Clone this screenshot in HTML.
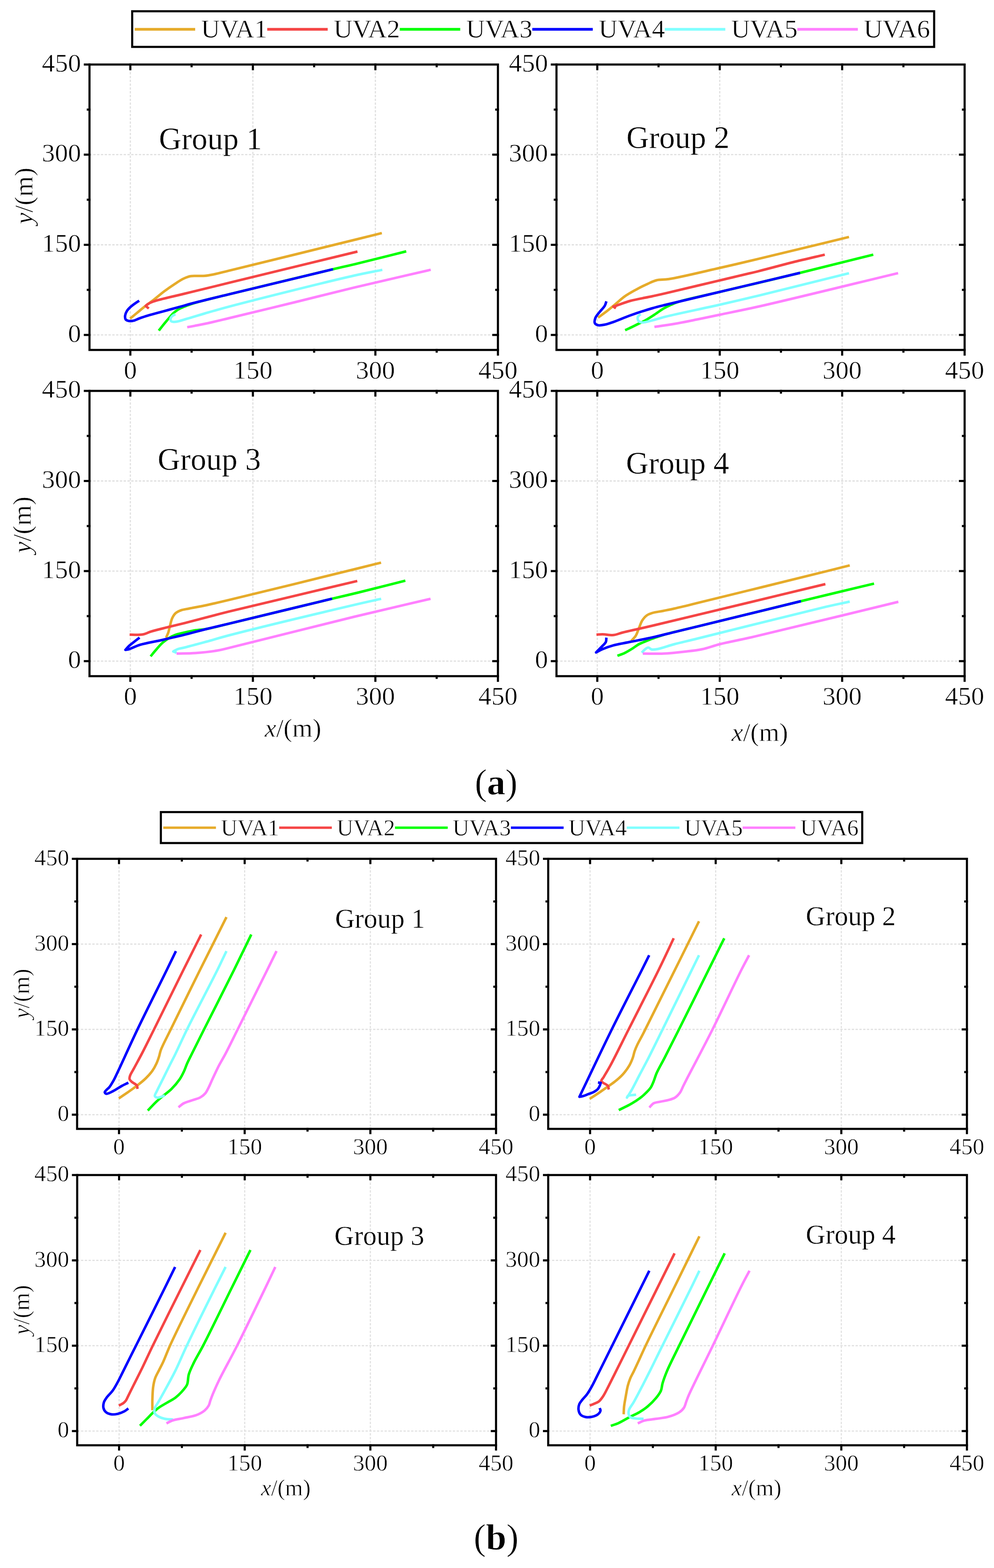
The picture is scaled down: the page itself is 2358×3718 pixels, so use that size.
<!DOCTYPE html>
<html><head><meta charset="utf-8"><title>UVA trajectories</title>
<style>html,body{margin:0;padding:0;background:#fff;overflow:hidden;} svg{display:block;}</style></head>
<body><svg width="2358" height="3718" viewBox="0 0 2358 3718">
<rect width="2358" height="3718" fill="#fff"/>
<g stroke="#e0e0e0" stroke-width="2.8" stroke-dasharray="5.6 3.4"><line x1="309.2" y1="153.0" x2="309.2" y2="829.8"/><line x1="212.3" y1="794.2" x2="1181.2" y2="794.2"/><line x1="599.9" y1="153.0" x2="599.9" y2="829.8"/><line x1="212.3" y1="580.5" x2="1181.2" y2="580.5"/><line x1="890.5" y1="153.0" x2="890.5" y2="829.8"/><line x1="212.3" y1="366.7" x2="1181.2" y2="366.7"/></g>
<path d="M308.6,755.5C313.8,751.2 318.9,747.0 324.3,742.5C330.2,737.7 336.2,732.4 342.6,727.4C349.3,722.1 356.3,717.4 363.6,711.7C371.9,705.3 381.0,697.3 389.8,690.7C398.4,684.2 407.8,677.7 416.0,672.4C422.9,667.9 429.1,663.6 435.6,660.6C441.3,657.9 446.8,655.7 452.6,654.7C458.3,653.7 464.3,654.4 470.0,654.3C475.4,654.2 480.5,654.5 486.0,654.0C492.1,653.5 497.5,652.5 505.0,651.0C515.9,648.8 525.4,646.2 545.0,641.4C599.1,628.3 789.1,581.5 850.0,566.5C876.1,560.1 887.2,557.3 905.8,552.7" fill="none" stroke="#E6AB2A" stroke-width="6" stroke-linejoin="round" stroke-linecap="butt"/>
<path d="M353.0,731.5L345.5,725.5C347.0,724.2 348.0,722.8 350.0,721.5C353.2,719.4 357.1,717.3 363.6,715.0C378.2,709.7 410.3,703.2 437.2,696.5C469.7,688.5 500.0,681.2 545.0,670.2C620.5,651.8 747.0,621.1 848.0,596.5" fill="none" stroke="#F54545" stroke-width="6" stroke-linejoin="round" stroke-linecap="butt"/>
<path d="M376.7,784.0C380.2,779.5 383.5,775.2 387.2,770.6C391.3,765.5 396.2,759.7 400.3,754.9C403.9,750.7 406.9,746.6 410.7,743.1C414.4,739.7 418.3,736.6 422.5,734.0C426.6,731.5 430.7,729.8 435.6,727.8C441.5,725.3 448.3,722.8 455.3,720.5C463.0,718.0 469.8,716.1 480.0,713.4C496.5,709.0 516.4,704.4 545.0,697.4C600.5,683.9 735.9,651.2 790.0,638.4C816.7,632.1 826.9,630.0 850.0,624.4C881.9,616.7 925.8,605.5 963.7,596.0" fill="none" stroke="#00FF00" stroke-width="6" stroke-linejoin="round" stroke-linecap="butt"/>
<path d="M330.2,713.0C326.9,715.2 323.8,717.1 320.4,719.5C316.6,722.2 312.0,725.5 308.6,728.7C305.5,731.6 302.7,734.5 300.7,737.9C298.8,741.1 297.2,745.0 296.8,748.4C296.5,751.5 296.6,755.4 298.1,757.5C299.4,759.4 302.1,760.2 304.6,760.8C307.6,761.5 311.3,761.5 315.1,760.8C319.9,759.9 325.2,756.9 330.8,754.9C337.0,752.7 343.4,750.5 350.5,748.4C358.6,746.0 368.0,743.6 376.7,741.2C385.4,738.8 394.2,736.4 402.9,734.0C411.6,731.6 420.4,729.2 429.1,726.8C437.8,724.4 443.9,722.5 455.3,719.5C476.3,714.0 507.7,706.5 545.0,697.4C606.6,682.4 708.3,658.1 790.0,638.4" fill="none" stroke="#0000FF" stroke-width="6" stroke-linejoin="round" stroke-linecap="butt"/>
<path d="M416.0,745.0C413.3,746.7 410.0,748.0 408.0,750.0C406.3,751.7 404.8,754.0 404.5,756.0C404.3,757.8 404.8,760.3 406.0,761.5C407.2,762.8 409.8,763.0 412.0,763.2C414.5,763.4 417.2,763.0 420.0,762.5C423.2,762.0 425.9,761.1 430.0,760.0C436.5,758.2 446.5,754.9 455.3,752.3C464.8,749.4 473.4,746.9 485.0,743.5C501.5,738.7 517.4,733.9 545.0,726.6C606.0,710.4 776.4,667.8 840.0,653.5C870.2,646.7 884.7,644.4 907.0,639.9" fill="none" stroke="#80FFFF" stroke-width="6" stroke-linejoin="round" stroke-linecap="butt"/>
<path d="M444.1,775.9C450.0,774.8 455.2,773.9 461.8,772.6C470.0,771.0 478.8,769.4 489.6,767.0C504.9,763.7 521.9,759.5 545.0,754.0C583.7,744.8 649.7,728.8 700.0,716.5C747.9,704.8 790.2,693.7 840.0,681.8C896.6,668.2 961.2,653.7 1021.8,639.7" fill="none" stroke="#FF80FF" stroke-width="6" stroke-linejoin="round" stroke-linecap="butt"/>
<g stroke="#000" stroke-width="5" stroke-linecap="square"><rect x="212.3" y="153.0" width="968.9" height="676.8" fill="none"/><line x1="309.2" y1="829.8" x2="309.2" y2="840.8"/><line x1="309.2" y1="153.0" x2="309.2" y2="164.0"/><line x1="212.3" y1="794.2" x2="201.3" y2="794.2"/><line x1="1181.2" y1="794.2" x2="1170.2" y2="794.2"/><line x1="599.9" y1="829.8" x2="599.9" y2="840.8"/><line x1="599.9" y1="153.0" x2="599.9" y2="164.0"/><line x1="212.3" y1="580.5" x2="201.3" y2="580.5"/><line x1="1181.2" y1="580.5" x2="1170.2" y2="580.5"/><line x1="890.5" y1="829.8" x2="890.5" y2="840.8"/><line x1="890.5" y1="153.0" x2="890.5" y2="164.0"/><line x1="212.3" y1="366.7" x2="201.3" y2="366.7"/><line x1="1181.2" y1="366.7" x2="1170.2" y2="366.7"/><line x1="1181.2" y1="829.8" x2="1181.2" y2="840.8"/><line x1="212.3" y1="153.0" x2="201.3" y2="153.0"/><line x1="454.5" y1="829.8" x2="454.5" y2="833.8"/><line x1="454.5" y1="153.0" x2="454.5" y2="157.0"/><line x1="212.3" y1="687.3" x2="208.3" y2="687.3"/><line x1="1181.2" y1="687.3" x2="1177.2" y2="687.3"/><line x1="745.2" y1="829.8" x2="745.2" y2="833.8"/><line x1="745.2" y1="153.0" x2="745.2" y2="157.0"/><line x1="212.3" y1="473.6" x2="208.3" y2="473.6"/><line x1="1181.2" y1="473.6" x2="1177.2" y2="473.6"/><line x1="1035.9" y1="829.8" x2="1035.9" y2="833.8"/><line x1="1035.9" y1="153.0" x2="1035.9" y2="157.0"/><line x1="212.3" y1="259.9" x2="208.3" y2="259.9"/><line x1="1181.2" y1="259.9" x2="1177.2" y2="259.9"/></g>
<g font-family="'Liberation Serif','Times New Roman',serif" stroke="#fff" stroke-width="0.8" font-size="62" fill="#000"><text x="309.2" y="897.8" text-anchor="middle">0</text><text x="192.3" y="810.6" text-anchor="end">0</text><text x="599.9" y="897.8" text-anchor="middle">150</text><text x="192.3" y="596.9" text-anchor="end">150</text><text x="890.5" y="897.8" text-anchor="middle">300</text><text x="192.3" y="383.2" text-anchor="end">300</text><text x="1181.2" y="897.8" text-anchor="middle">450</text><text x="192.3" y="169.5" text-anchor="end">450</text></g>
<g stroke="#e0e0e0" stroke-width="2.8" stroke-dasharray="5.6 3.4"><line x1="1416.9" y1="153.0" x2="1416.9" y2="829.8"/><line x1="1320.1" y1="794.2" x2="2288.3" y2="794.2"/><line x1="1707.4" y1="153.0" x2="1707.4" y2="829.8"/><line x1="1320.1" y1="580.5" x2="2288.3" y2="580.5"/><line x1="1997.8" y1="153.0" x2="1997.8" y2="829.8"/><line x1="1320.1" y1="366.7" x2="2288.3" y2="366.7"/></g>
<path d="M1418.8,753.0C1424.9,748.6 1430.9,744.5 1437.2,739.7C1444.0,734.5 1450.9,728.6 1458.1,722.7C1465.7,716.4 1473.4,708.9 1481.7,703.0C1490.0,697.1 1498.9,692.3 1507.9,687.3C1517.2,682.2 1527.8,676.9 1536.7,672.9C1544.2,669.5 1549.9,666.4 1557.6,664.5C1566.3,662.4 1573.6,663.8 1586.5,661.8C1613.1,657.7 1669.9,643.8 1707.5,635.3C1740.4,627.9 1762.8,622.5 1800.0,613.7C1856.6,600.2 1942.7,579.2 2014.0,561.9" fill="none" stroke="#E6AB2A" stroke-width="6" stroke-linejoin="round" stroke-linecap="butt"/>
<path d="M1461.0,731.0L1455.0,727.0C1456.7,726.5 1457.6,726.3 1460.0,725.5C1466.4,723.4 1481.9,717.1 1494.8,713.5C1510.4,709.2 1531.8,705.9 1547.2,702.5C1559.4,699.8 1565.5,698.5 1580.0,695.1C1608.6,688.5 1668.4,674.1 1707.5,664.8C1740.8,656.9 1770.3,650.2 1800.0,642.8C1827.7,635.9 1853.6,628.6 1880.0,622.0C1905.8,615.6 1931.1,609.9 1956.6,603.9" fill="none" stroke="#F54545" stroke-width="6" stroke-linejoin="round" stroke-linecap="butt"/>
<path d="M1483.0,783.0C1488.7,780.3 1494.0,777.9 1500.0,775.0C1506.6,771.8 1515.2,767.5 1521.0,764.6C1525.1,762.5 1527.5,761.6 1531.5,759.3C1537.3,756.0 1545.5,750.7 1552.4,746.2C1559.4,741.6 1566.7,736.0 1573.4,732.0C1579.2,728.6 1584.1,726.2 1590.0,723.5C1596.3,720.6 1600.7,718.5 1610.0,715.5C1630.1,709.1 1669.6,701.2 1707.5,692.2C1760.4,679.6 1835.9,662.1 1897.9,647.0C1957.2,632.6 2013.7,618.2 2071.6,603.8" fill="none" stroke="#00FF00" stroke-width="6" stroke-linejoin="round" stroke-linecap="butt"/>
<path d="M1438.5,714.5C1437.2,718.1 1436.7,721.6 1434.5,725.3C1431.6,730.3 1425.3,735.9 1421.4,741.0C1418.0,745.5 1414.0,749.6 1412.3,754.1C1410.9,758.0 1409.7,763.0 1411.0,765.9C1412.2,768.5 1415.6,770.3 1418.8,771.1C1423.0,772.2 1428.9,770.9 1434.5,769.8C1441.1,768.5 1447.5,766.1 1455.5,763.3C1466.6,759.4 1480.7,753.0 1494.8,748.0C1510.9,742.2 1531.7,735.5 1547.2,731.0C1559.3,727.5 1565.5,726.1 1580.0,722.5C1608.6,715.4 1660.8,703.3 1707.5,692.2C1764.6,678.6 1834.4,662.1 1897.9,647.0" fill="none" stroke="#0000FF" stroke-width="6" stroke-linejoin="round" stroke-linecap="butt"/>
<path d="M1519.7,744.9C1517.5,747.1 1514.0,748.9 1513.1,751.5C1512.2,754.1 1512.7,758.4 1514.4,760.6C1516.1,762.9 1519.7,764.2 1523.6,764.6C1529.6,765.2 1538.7,761.8 1547.2,759.8C1557.3,757.4 1565.4,754.2 1580.0,750.6C1608.5,743.5 1668.4,731.4 1707.5,722.5C1740.8,714.9 1762.8,709.8 1800.0,700.8C1856.6,687.1 1942.7,665.5 2014.0,647.8" fill="none" stroke="#80FFFF" stroke-width="6" stroke-linejoin="round" stroke-linecap="butt"/>
<path d="M1552.4,775.0C1568.1,772.7 1583.5,770.8 1599.6,768.0C1616.6,765.1 1634.3,761.4 1652.0,757.8C1670.2,754.1 1686.7,750.6 1707.5,746.2C1734.4,740.6 1759.8,735.8 1800.0,726.8C1876.3,709.7 2020.3,674.0 2130.5,647.6" fill="none" stroke="#FF80FF" stroke-width="6" stroke-linejoin="round" stroke-linecap="butt"/>
<g stroke="#000" stroke-width="5" stroke-linecap="square"><rect x="1320.1" y="153.0" width="968.2" height="676.8" fill="none"/><line x1="1416.9" y1="829.8" x2="1416.9" y2="840.8"/><line x1="1416.9" y1="153.0" x2="1416.9" y2="164.0"/><line x1="1320.1" y1="794.2" x2="1309.1" y2="794.2"/><line x1="2288.3" y1="794.2" x2="2277.3" y2="794.2"/><line x1="1707.4" y1="829.8" x2="1707.4" y2="840.8"/><line x1="1707.4" y1="153.0" x2="1707.4" y2="164.0"/><line x1="1320.1" y1="580.5" x2="1309.1" y2="580.5"/><line x1="2288.3" y1="580.5" x2="2277.3" y2="580.5"/><line x1="1997.8" y1="829.8" x2="1997.8" y2="840.8"/><line x1="1997.8" y1="153.0" x2="1997.8" y2="164.0"/><line x1="1320.1" y1="366.7" x2="1309.1" y2="366.7"/><line x1="2288.3" y1="366.7" x2="2277.3" y2="366.7"/><line x1="2288.3" y1="829.8" x2="2288.3" y2="840.8"/><line x1="1320.1" y1="153.0" x2="1309.1" y2="153.0"/><line x1="1562.2" y1="829.8" x2="1562.2" y2="833.8"/><line x1="1562.2" y1="153.0" x2="1562.2" y2="157.0"/><line x1="1320.1" y1="687.3" x2="1316.1" y2="687.3"/><line x1="2288.3" y1="687.3" x2="2284.3" y2="687.3"/><line x1="1852.6" y1="829.8" x2="1852.6" y2="833.8"/><line x1="1852.6" y1="153.0" x2="1852.6" y2="157.0"/><line x1="1320.1" y1="473.6" x2="1316.1" y2="473.6"/><line x1="2288.3" y1="473.6" x2="2284.3" y2="473.6"/><line x1="2143.1" y1="829.8" x2="2143.1" y2="833.8"/><line x1="2143.1" y1="153.0" x2="2143.1" y2="157.0"/><line x1="1320.1" y1="259.9" x2="1316.1" y2="259.9"/><line x1="2288.3" y1="259.9" x2="2284.3" y2="259.9"/></g>
<g font-family="'Liberation Serif','Times New Roman',serif" stroke="#fff" stroke-width="0.8" font-size="62" fill="#000"><text x="1416.9" y="897.8" text-anchor="middle">0</text><text x="1300.1" y="810.6" text-anchor="end">0</text><text x="1707.4" y="897.8" text-anchor="middle">150</text><text x="1300.1" y="596.9" text-anchor="end">150</text><text x="1997.8" y="897.8" text-anchor="middle">300</text><text x="1300.1" y="383.2" text-anchor="end">300</text><text x="2288.3" y="897.8" text-anchor="middle">450</text><text x="1300.1" y="169.5" text-anchor="end">450</text></g>
<g stroke="#e0e0e0" stroke-width="2.8" stroke-dasharray="5.6 3.4"><line x1="309.2" y1="926.9" x2="309.2" y2="1603.3"/><line x1="212.3" y1="1567.7" x2="1181.2" y2="1567.7"/><line x1="599.9" y1="926.9" x2="599.9" y2="1603.3"/><line x1="212.3" y1="1354.1" x2="1181.2" y2="1354.1"/><line x1="890.5" y1="926.9" x2="890.5" y2="1603.3"/><line x1="212.3" y1="1140.5" x2="1181.2" y2="1140.5"/></g>
<path d="M394.0,1512.0C395.7,1508.0 397.7,1504.3 399.2,1500.0C400.8,1495.2 401.6,1489.7 403.1,1484.3C404.7,1478.4 406.0,1471.3 408.4,1466.0C410.5,1461.5 412.8,1457.3 416.2,1454.2C419.7,1451.0 424.4,1448.9 429.3,1447.1C434.8,1445.1 440.2,1444.7 447.6,1443.2C458.7,1440.9 474.7,1438.2 489.6,1435.0C506.8,1431.3 519.1,1428.4 545.0,1422.2C605.8,1407.7 789.8,1362.3 850.0,1347.5C875.3,1341.3 886.0,1338.6 904.0,1334.1" fill="none" stroke="#E6AB2A" stroke-width="6" stroke-linejoin="round" stroke-linecap="butt"/>
<path d="M307.5,1504.8C314.1,1505.0 321.3,1505.5 327.2,1505.3C332.0,1505.1 335.6,1505.0 340.2,1504.0C345.9,1502.7 351.3,1499.7 358.6,1497.4C369.2,1494.1 384.8,1490.5 397.9,1487.2C411.0,1483.9 420.9,1481.7 437.2,1477.6C464.3,1470.8 499.9,1460.9 545.0,1449.7C620.3,1431.0 746.7,1401.6 847.5,1377.6" fill="none" stroke="#F54545" stroke-width="6" stroke-linejoin="round" stroke-linecap="butt"/>
<path d="M357.3,1556.4C361.2,1551.6 364.8,1546.9 369.1,1542.0C373.9,1536.5 379.3,1529.9 384.8,1524.9C389.8,1520.3 395.1,1516.4 400.5,1513.1C405.6,1510.0 410.5,1507.4 416.2,1505.3C422.6,1502.9 429.8,1501.7 437.2,1500.0C445.4,1498.1 454.6,1495.9 463.4,1494.5C472.1,1493.1 479.3,1493.3 489.6,1491.5C504.7,1488.8 520.0,1484.3 545.0,1478.3C597.3,1465.7 733.5,1432.7 787.9,1419.7C815.4,1413.1 826.3,1410.8 850.0,1405.0C881.8,1397.2 924.4,1386.2 961.6,1376.8" fill="none" stroke="#00FF00" stroke-width="6" stroke-linejoin="round" stroke-linecap="butt"/>
<path d="M331.1,1511.8C327.2,1514.9 323.3,1517.8 319.3,1521.0C315.0,1524.4 310.0,1527.9 306.2,1531.5C302.9,1534.6 300.4,1537.8 297.5,1541.0C300.4,1540.4 302.6,1540.4 306.2,1539.3C312.7,1537.4 322.0,1532.1 332.4,1528.9C346.7,1524.5 367.3,1521.4 384.8,1517.5C402.3,1513.5 419.8,1509.5 437.2,1505.2C454.7,1500.9 471.9,1495.9 489.6,1491.5C507.8,1487.0 520.0,1484.3 545.0,1478.3C597.3,1465.7 706.9,1439.2 787.9,1419.7" fill="none" stroke="#0000FF" stroke-width="6" stroke-linejoin="round" stroke-linecap="butt"/>
<path d="M418.8,1547.7L411.0,1544.6C414.5,1542.8 417.6,1540.8 421.5,1539.3C426.1,1537.6 430.4,1537.2 437.2,1535.5C449.6,1532.4 471.9,1526.3 489.6,1521.5C507.8,1516.5 519.2,1512.8 545.0,1506.0C604.4,1490.5 777.4,1449.1 840.0,1434.4C869.1,1427.6 882.8,1424.7 904.2,1419.9" fill="none" stroke="#80FFFF" stroke-width="6" stroke-linejoin="round" stroke-linecap="butt"/>
<path d="M418.8,1549.8C433.7,1549.4 448.0,1549.6 463.4,1548.5C480.2,1547.3 500.9,1545.0 515.8,1542.5C527.0,1540.6 530.2,1539.4 545.0,1535.9C592.1,1524.7 753.5,1483.4 840.0,1462.5C907.7,1446.1 960.9,1434.1 1021.4,1419.9" fill="none" stroke="#FF80FF" stroke-width="6" stroke-linejoin="round" stroke-linecap="butt"/>
<g stroke="#000" stroke-width="5" stroke-linecap="square"><rect x="212.3" y="926.9" width="968.9" height="676.4" fill="none"/><line x1="309.2" y1="1603.3" x2="309.2" y2="1614.3"/><line x1="309.2" y1="926.9" x2="309.2" y2="937.9"/><line x1="212.3" y1="1567.7" x2="201.3" y2="1567.7"/><line x1="1181.2" y1="1567.7" x2="1170.2" y2="1567.7"/><line x1="599.9" y1="1603.3" x2="599.9" y2="1614.3"/><line x1="599.9" y1="926.9" x2="599.9" y2="937.9"/><line x1="212.3" y1="1354.1" x2="201.3" y2="1354.1"/><line x1="1181.2" y1="1354.1" x2="1170.2" y2="1354.1"/><line x1="890.5" y1="1603.3" x2="890.5" y2="1614.3"/><line x1="890.5" y1="926.9" x2="890.5" y2="937.9"/><line x1="212.3" y1="1140.5" x2="201.3" y2="1140.5"/><line x1="1181.2" y1="1140.5" x2="1170.2" y2="1140.5"/><line x1="1181.2" y1="1603.3" x2="1181.2" y2="1614.3"/><line x1="212.3" y1="926.9" x2="201.3" y2="926.9"/><line x1="454.5" y1="1603.3" x2="454.5" y2="1607.3"/><line x1="454.5" y1="926.9" x2="454.5" y2="930.9"/><line x1="212.3" y1="1460.9" x2="208.3" y2="1460.9"/><line x1="1181.2" y1="1460.9" x2="1177.2" y2="1460.9"/><line x1="745.2" y1="1603.3" x2="745.2" y2="1607.3"/><line x1="745.2" y1="926.9" x2="745.2" y2="930.9"/><line x1="212.3" y1="1247.3" x2="208.3" y2="1247.3"/><line x1="1181.2" y1="1247.3" x2="1177.2" y2="1247.3"/><line x1="1035.9" y1="1603.3" x2="1035.9" y2="1607.3"/><line x1="1035.9" y1="926.9" x2="1035.9" y2="930.9"/><line x1="212.3" y1="1033.7" x2="208.3" y2="1033.7"/><line x1="1181.2" y1="1033.7" x2="1177.2" y2="1033.7"/></g>
<g font-family="'Liberation Serif','Times New Roman',serif" stroke="#fff" stroke-width="0.8" font-size="62" fill="#000"><text x="309.2" y="1671.3" text-anchor="middle">0</text><text x="192.3" y="1584.2" text-anchor="end">0</text><text x="599.9" y="1671.3" text-anchor="middle">150</text><text x="192.3" y="1370.6" text-anchor="end">150</text><text x="890.5" y="1671.3" text-anchor="middle">300</text><text x="192.3" y="1157.0" text-anchor="end">300</text><text x="1181.2" y="1671.3" text-anchor="middle">450</text><text x="192.3" y="943.4" text-anchor="end">450</text></g>
<g stroke="#e0e0e0" stroke-width="2.8" stroke-dasharray="5.6 3.4"><line x1="1416.9" y1="926.9" x2="1416.9" y2="1603.3"/><line x1="1320.1" y1="1567.7" x2="2288.3" y2="1567.7"/><line x1="1707.4" y1="926.9" x2="1707.4" y2="1603.3"/><line x1="1320.1" y1="1354.1" x2="2288.3" y2="1354.1"/><line x1="1997.8" y1="926.9" x2="1997.8" y2="1603.3"/><line x1="1320.1" y1="1140.5" x2="2288.3" y2="1140.5"/></g>
<path d="M1497.4,1519.7C1500.9,1515.8 1505.0,1512.5 1507.9,1507.9C1511.2,1502.7 1513.1,1495.7 1515.7,1489.6C1518.3,1483.5 1520.3,1476.4 1523.6,1471.2C1526.6,1466.6 1530.0,1462.4 1534.1,1459.4C1538.0,1456.6 1542.0,1455.2 1547.2,1453.5C1554.3,1451.2 1564.7,1450.2 1573.4,1448.5C1582.1,1446.7 1589.3,1445.3 1599.6,1443.0C1614.7,1439.6 1629.1,1436.0 1655.0,1429.7C1715.8,1414.9 1899.1,1369.7 1960.0,1354.6C1986.1,1348.1 1997.2,1345.3 2015.8,1340.6" fill="none" stroke="#E6AB2A" stroke-width="6" stroke-linejoin="round" stroke-linecap="butt"/>
<path d="M1414.9,1504.8C1419.7,1504.5 1423.8,1504.0 1429.3,1504.0C1436.7,1504.0 1447.3,1506.6 1455.5,1505.8C1462.9,1505.0 1468.7,1502.0 1476.4,1500.0C1485.8,1497.6 1496.8,1495.2 1507.9,1492.7C1520.3,1489.9 1530.9,1487.6 1547.2,1483.8C1574.3,1477.5 1610.0,1468.7 1655.0,1457.9C1730.5,1439.8 1857.0,1409.3 1958.0,1385.0" fill="none" stroke="#F54545" stroke-width="6" stroke-linejoin="round" stroke-linecap="butt"/>
<path d="M1464.7,1555.0C1470.4,1552.8 1476.0,1551.2 1481.7,1548.5C1487.8,1545.6 1494.2,1541.6 1500.0,1538.0C1505.5,1534.6 1510.1,1530.5 1515.7,1527.5C1521.5,1524.4 1528.5,1522.0 1534.1,1519.7C1538.8,1517.8 1542.0,1516.4 1547.2,1514.5C1554.7,1511.7 1563.2,1508.4 1575.0,1505.0C1594.7,1499.2 1621.1,1493.7 1655.0,1485.4C1714.4,1470.9 1845.9,1438.6 1900.0,1425.5C1926.8,1419.0 1936.8,1416.6 1960.0,1411.0C1991.8,1403.3 2035.6,1392.9 2073.4,1383.8" fill="none" stroke="#00FF00" stroke-width="6" stroke-linejoin="round" stroke-linecap="butt"/>
<path d="M1438.5,1511.8C1438.1,1515.3 1438.7,1518.9 1437.2,1522.3C1435.3,1526.4 1430.4,1530.1 1426.7,1534.1C1422.7,1538.4 1418.2,1542.7 1414.0,1547.0C1419.1,1544.4 1423.4,1541.8 1429.3,1539.3C1436.8,1536.1 1445.8,1532.9 1455.5,1530.2C1467.2,1527.0 1480.8,1524.9 1494.8,1522.0C1511.0,1518.7 1529.8,1515.4 1547.2,1511.5C1564.7,1507.6 1581.9,1503.1 1599.6,1498.8C1617.8,1494.4 1630.0,1491.5 1655.0,1485.4C1707.6,1472.6 1818.3,1445.5 1900.0,1425.5" fill="none" stroke="#0000FF" stroke-width="6" stroke-linejoin="round" stroke-linecap="butt"/>
<path d="M1522.3,1547.5C1525.2,1544.7 1528.1,1541.1 1531.0,1539.0C1533.3,1537.3 1535.6,1535.4 1538.0,1535.5C1540.6,1535.6 1542.8,1539.3 1546.0,1540.0C1549.9,1540.9 1554.2,1540.0 1560.0,1539.0C1569.9,1537.2 1585.2,1531.3 1599.6,1527.5C1616.5,1523.0 1629.1,1520.4 1655.0,1514.0C1715.8,1499.1 1899.0,1452.9 1960.0,1438.7C1986.0,1432.6 1997.2,1430.6 2015.8,1426.5" fill="none" stroke="#80FFFF" stroke-width="6" stroke-linejoin="round" stroke-linecap="butt"/>
<path d="M1524.9,1549.8C1541.1,1549.8 1556.9,1550.6 1573.4,1549.8C1590.5,1549.0 1609.6,1546.9 1625.8,1545.0C1639.9,1543.4 1651.8,1542.3 1665.1,1539.5C1679.1,1536.6 1691.0,1531.7 1707.5,1527.5C1730.4,1521.8 1753.2,1517.9 1790.0,1509.4C1865.0,1492.1 2017.4,1454.5 2131.1,1427.0" fill="none" stroke="#FF80FF" stroke-width="6" stroke-linejoin="round" stroke-linecap="butt"/>
<g stroke="#000" stroke-width="5" stroke-linecap="square"><rect x="1320.1" y="926.9" width="968.2" height="676.4" fill="none"/><line x1="1416.9" y1="1603.3" x2="1416.9" y2="1614.3"/><line x1="1416.9" y1="926.9" x2="1416.9" y2="937.9"/><line x1="1320.1" y1="1567.7" x2="1309.1" y2="1567.7"/><line x1="2288.3" y1="1567.7" x2="2277.3" y2="1567.7"/><line x1="1707.4" y1="1603.3" x2="1707.4" y2="1614.3"/><line x1="1707.4" y1="926.9" x2="1707.4" y2="937.9"/><line x1="1320.1" y1="1354.1" x2="1309.1" y2="1354.1"/><line x1="2288.3" y1="1354.1" x2="2277.3" y2="1354.1"/><line x1="1997.8" y1="1603.3" x2="1997.8" y2="1614.3"/><line x1="1997.8" y1="926.9" x2="1997.8" y2="937.9"/><line x1="1320.1" y1="1140.5" x2="1309.1" y2="1140.5"/><line x1="2288.3" y1="1140.5" x2="2277.3" y2="1140.5"/><line x1="2288.3" y1="1603.3" x2="2288.3" y2="1614.3"/><line x1="1320.1" y1="926.9" x2="1309.1" y2="926.9"/><line x1="1562.2" y1="1603.3" x2="1562.2" y2="1607.3"/><line x1="1562.2" y1="926.9" x2="1562.2" y2="930.9"/><line x1="1320.1" y1="1460.9" x2="1316.1" y2="1460.9"/><line x1="2288.3" y1="1460.9" x2="2284.3" y2="1460.9"/><line x1="1852.6" y1="1603.3" x2="1852.6" y2="1607.3"/><line x1="1852.6" y1="926.9" x2="1852.6" y2="930.9"/><line x1="1320.1" y1="1247.3" x2="1316.1" y2="1247.3"/><line x1="2288.3" y1="1247.3" x2="2284.3" y2="1247.3"/><line x1="2143.1" y1="1603.3" x2="2143.1" y2="1607.3"/><line x1="2143.1" y1="926.9" x2="2143.1" y2="930.9"/><line x1="1320.1" y1="1033.7" x2="1316.1" y2="1033.7"/><line x1="2288.3" y1="1033.7" x2="2284.3" y2="1033.7"/></g>
<g font-family="'Liberation Serif','Times New Roman',serif" stroke="#fff" stroke-width="0.8" font-size="62" fill="#000"><text x="1416.9" y="1671.3" text-anchor="middle">0</text><text x="1300.1" y="1584.2" text-anchor="end">0</text><text x="1707.4" y="1671.3" text-anchor="middle">150</text><text x="1300.1" y="1370.6" text-anchor="end">150</text><text x="1997.8" y="1671.3" text-anchor="middle">300</text><text x="1300.1" y="1157.0" text-anchor="end">300</text><text x="2288.3" y="1671.3" text-anchor="middle">450</text><text x="1300.1" y="943.4" text-anchor="end">450</text></g>
<rect x="313.6" y="26.7" width="1902.4" height="84.5" fill="#fff" stroke="#000" stroke-width="5"/>
<line x1="319.5" y1="69.5" x2="463.0" y2="69.5" stroke="#E6AB2A" stroke-width="6.5"/>
<text x="477.0" y="88.5" font-family="'Liberation Serif','Times New Roman',serif" stroke="#fff" stroke-width="0.8" font-size="62">UVA1</text>
<line x1="633.9" y1="69.5" x2="777.4" y2="69.5" stroke="#F54545" stroke-width="6.5"/>
<text x="791.4" y="88.5" font-family="'Liberation Serif','Times New Roman',serif" stroke="#fff" stroke-width="0.8" font-size="62">UVA2</text>
<line x1="948.3" y1="69.5" x2="1091.8" y2="69.5" stroke="#00FF00" stroke-width="6.5"/>
<text x="1105.8" y="88.5" font-family="'Liberation Serif','Times New Roman',serif" stroke="#fff" stroke-width="0.8" font-size="62">UVA3</text>
<line x1="1262.6999999999998" y1="69.5" x2="1406.1999999999998" y2="69.5" stroke="#0000FF" stroke-width="6.5"/>
<text x="1420.1999999999998" y="88.5" font-family="'Liberation Serif','Times New Roman',serif" stroke="#fff" stroke-width="0.8" font-size="62">UVA4</text>
<line x1="1577.1" y1="69.5" x2="1720.6" y2="69.5" stroke="#80FFFF" stroke-width="6.5"/>
<text x="1734.6" y="88.5" font-family="'Liberation Serif','Times New Roman',serif" stroke="#fff" stroke-width="0.8" font-size="62">UVA5</text>
<line x1="1891.5" y1="69.5" x2="2035.0" y2="69.5" stroke="#FF80FF" stroke-width="6.5"/>
<text x="2049.0" y="88.5" font-family="'Liberation Serif','Times New Roman',serif" stroke="#fff" stroke-width="0.8" font-size="62">UVA6</text>
<g stroke="#e0e0e0" stroke-width="2.6" stroke-dasharray="5.6 3.4"><line x1="282.3" y1="2036.4" x2="282.3" y2="2676.8"/><line x1="182.9" y1="2643.1" x2="1176.7" y2="2643.1"/><line x1="580.4" y1="2036.4" x2="580.4" y2="2676.8"/><line x1="182.9" y1="2440.9" x2="1176.7" y2="2440.9"/><line x1="878.6" y1="2036.4" x2="878.6" y2="2676.8"/><line x1="182.9" y1="2238.6" x2="1176.7" y2="2238.6"/></g>
<path d="M281.9,2604.5C288.8,2599.8 295.4,2595.4 302.5,2590.5C310.1,2585.2 318.6,2579.3 326.0,2573.5C333.0,2568.1 339.7,2562.9 345.7,2557.0C351.5,2551.3 357.1,2545.2 361.5,2539.0C365.5,2533.3 368.6,2527.3 371.3,2521.5C373.8,2516.2 375.5,2511.0 377.2,2505.7C378.9,2500.5 379.1,2496.5 381.5,2490.0C386.0,2478.0 395.0,2461.5 405.0,2441.0C422.0,2406.1 451.8,2345.6 474.4,2300.0C495.8,2257.0 516.3,2216.5 537.2,2174.7" fill="none" stroke="#E6AB2A" stroke-width="6" stroke-linejoin="round" stroke-linecap="butt"/>
<path d="M326.1,2582.0C325.7,2579.3 326.3,2576.5 324.8,2574.0C322.7,2570.6 315.4,2567.9 312.3,2565.0C310.1,2562.9 308.1,2561.3 307.4,2559.0C306.7,2556.6 307.4,2554.1 308.4,2551.0C310.0,2546.0 314.4,2539.6 318.2,2532.5C323.4,2522.7 330.2,2510.6 337.0,2497.5C345.6,2480.9 354.0,2463.7 365.6,2440.5C383.7,2404.1 414.7,2340.8 435.0,2300.0C450.8,2268.4 463.1,2243.9 477.2,2215.9" fill="none" stroke="#F54545" stroke-width="6" stroke-linejoin="round" stroke-linecap="butt"/>
<path d="M350.6,2633.4C356.8,2626.9 363.0,2619.8 369.3,2613.8C375.1,2608.2 380.9,2603.6 387.0,2598.5C393.3,2593.2 400.3,2588.6 406.6,2582.4C413.5,2575.6 421.1,2566.5 426.3,2559.0C430.5,2552.8 433.2,2547.2 436.1,2541.0C439.1,2534.7 441.0,2528.2 444.0,2521.5C447.4,2514.0 450.8,2507.6 455.5,2498.0C462.9,2482.9 472.7,2463.5 484.5,2440.0C502.9,2403.4 534.9,2340.8 555.1,2300.0C570.7,2268.5 582.4,2243.9 596.1,2215.9" fill="none" stroke="#00FF00" stroke-width="6" stroke-linejoin="round" stroke-linecap="butt"/>
<path d="M304.5,2567.2C299.3,2569.8 294.3,2572.0 288.8,2575.0C282.5,2578.4 275.6,2583.6 269.1,2586.8C263.3,2589.6 255.4,2594.2 252.0,2593.5C250.2,2593.1 248.6,2591.4 248.5,2590.0C248.4,2588.3 251.3,2585.9 253.0,2584.0C254.8,2581.9 257.3,2580.4 259.3,2578.0C261.8,2575.0 264.3,2570.6 266.5,2567.0C268.6,2563.6 269.4,2562.1 272.1,2556.8C281.1,2539.0 307.5,2479.7 327.1,2438.9C348.5,2394.4 379.2,2333.6 395.6,2300.0C404.9,2281.0 410.1,2270.1 417.3,2255.2" fill="none" stroke="#0000FF" stroke-width="6" stroke-linejoin="round" stroke-linecap="butt"/>
<path d="M390.9,2597.6C385.0,2599.3 377.4,2603.3 373.2,2602.6C370.6,2602.2 367.9,2600.5 367.3,2598.6C366.6,2596.2 369.4,2592.9 371.3,2588.8C374.6,2581.6 380.9,2569.5 386.0,2559.3C391.5,2548.3 397.7,2535.5 403.0,2525.0C407.5,2516.0 410.7,2510.2 415.7,2500.0C423.4,2484.4 432.3,2464.1 444.1,2440.0C462.3,2403.0 499.0,2333.8 515.7,2300.0C525.1,2281.0 530.0,2270.1 537.2,2255.2" fill="none" stroke="#80FFFF" stroke-width="6" stroke-linejoin="round" stroke-linecap="butt"/>
<path d="M423.3,2625.5C427.6,2622.3 431.1,2618.6 436.1,2616.0C441.8,2613.0 449.2,2611.3 455.8,2609.0C462.3,2606.7 469.9,2605.1 475.4,2602.0C480.1,2599.3 483.9,2596.1 487.2,2592.2C490.5,2588.2 492.4,2583.6 495.1,2578.4C498.3,2572.1 501.2,2564.6 504.9,2556.8C509.3,2547.3 514.9,2535.2 520.0,2525.4C524.7,2516.4 528.7,2510.3 534.2,2500.0C542.5,2484.3 552.2,2464.2 564.3,2440.0C582.7,2403.1 617.2,2333.7 633.9,2300.0C643.3,2280.9 648.6,2270.1 656.0,2255.2" fill="none" stroke="#FF80FF" stroke-width="6" stroke-linejoin="round" stroke-linecap="butt"/>
<g stroke="#000" stroke-width="5" stroke-linecap="square"><rect x="182.9" y="2036.4" width="993.8" height="640.4" fill="none"/><line x1="282.3" y1="2676.8" x2="282.3" y2="2686.8"/><line x1="282.3" y1="2036.4" x2="282.3" y2="2046.4"/><line x1="182.9" y1="2643.1" x2="172.9" y2="2643.1"/><line x1="1176.7" y1="2643.1" x2="1166.7" y2="2643.1"/><line x1="580.4" y1="2676.8" x2="580.4" y2="2686.8"/><line x1="580.4" y1="2036.4" x2="580.4" y2="2046.4"/><line x1="182.9" y1="2440.9" x2="172.9" y2="2440.9"/><line x1="1176.7" y1="2440.9" x2="1166.7" y2="2440.9"/><line x1="878.6" y1="2676.8" x2="878.6" y2="2686.8"/><line x1="878.6" y1="2036.4" x2="878.6" y2="2046.4"/><line x1="182.9" y1="2238.6" x2="172.9" y2="2238.6"/><line x1="1176.7" y1="2238.6" x2="1166.7" y2="2238.6"/><line x1="1176.7" y1="2676.8" x2="1176.7" y2="2686.8"/><line x1="182.9" y1="2036.4" x2="172.9" y2="2036.4"/><line x1="431.4" y1="2676.8" x2="431.4" y2="2680.8"/><line x1="431.4" y1="2036.4" x2="431.4" y2="2040.4"/><line x1="182.9" y1="2542.0" x2="178.9" y2="2542.0"/><line x1="1176.7" y1="2542.0" x2="1172.7" y2="2542.0"/><line x1="729.5" y1="2676.8" x2="729.5" y2="2680.8"/><line x1="729.5" y1="2036.4" x2="729.5" y2="2040.4"/><line x1="182.9" y1="2339.7" x2="178.9" y2="2339.7"/><line x1="1176.7" y1="2339.7" x2="1172.7" y2="2339.7"/><line x1="1027.6" y1="2676.8" x2="1027.6" y2="2680.8"/><line x1="1027.6" y1="2036.4" x2="1027.6" y2="2040.4"/><line x1="182.9" y1="2137.5" x2="178.9" y2="2137.5"/><line x1="1176.7" y1="2137.5" x2="1172.7" y2="2137.5"/></g>
<g font-family="'Liberation Serif','Times New Roman',serif" stroke="#fff" stroke-width="0.8" font-size="55" fill="#000"><text x="282.3" y="2736.8" text-anchor="middle">0</text><text x="163.9" y="2658.2" text-anchor="end">0</text><text x="580.4" y="2736.8" text-anchor="middle">150</text><text x="163.9" y="2456.0" text-anchor="end">150</text><text x="878.6" y="2736.8" text-anchor="middle">300</text><text x="163.9" y="2253.8" text-anchor="end">300</text><text x="1176.7" y="2736.8" text-anchor="middle">450</text><text x="163.9" y="2051.6" text-anchor="end">450</text></g>
<g stroke="#e0e0e0" stroke-width="2.6" stroke-dasharray="5.6 3.4"><line x1="1399.8" y1="2036.4" x2="1399.8" y2="2676.8"/><line x1="1300.5" y1="2643.1" x2="2293.8" y2="2643.1"/><line x1="1697.8" y1="2036.4" x2="1697.8" y2="2676.8"/><line x1="1300.5" y1="2440.9" x2="2293.8" y2="2440.9"/><line x1="1995.8" y1="2036.4" x2="1995.8" y2="2676.8"/><line x1="1300.5" y1="2238.6" x2="2293.8" y2="2238.6"/></g>
<path d="M1398.9,2605.5C1405.5,2601.2 1412.1,2597.1 1418.6,2592.7C1425.2,2588.3 1431.7,2583.6 1438.2,2579.0C1444.8,2574.4 1451.5,2570.3 1457.9,2565.2C1464.6,2559.9 1471.6,2554.0 1477.5,2547.5C1483.4,2540.9 1489.1,2532.9 1493.2,2525.9C1496.7,2519.9 1499.0,2514.1 1501.1,2508.3C1503.0,2503.0 1503.7,2497.7 1505.5,2492.5C1507.3,2487.3 1509.2,2482.8 1512.0,2477.0C1515.8,2469.0 1519.4,2463.3 1526.6,2449.3C1548.7,2406.2 1614.3,2272.8 1658.2,2184.5" fill="none" stroke="#E6AB2A" stroke-width="6" stroke-linejoin="round" stroke-linecap="butt"/>
<path d="M1444.1,2583.5C1443.5,2580.7 1443.9,2577.5 1442.2,2575.0C1440.0,2571.8 1433.2,2569.5 1430.4,2567.2C1428.6,2565.8 1426.6,2565.0 1426.4,2563.3C1426.1,2560.8 1429.9,2557.5 1432.3,2553.4C1436.3,2546.5 1441.9,2537.7 1448.3,2525.9C1459.4,2505.5 1475.1,2472.9 1491.2,2441.0C1511.9,2399.9 1542.9,2339.8 1562.4,2300.0C1576.6,2271.1 1586.3,2249.9 1598.2,2224.8" fill="none" stroke="#F54545" stroke-width="6" stroke-linejoin="round" stroke-linecap="butt"/>
<path d="M1467.9,2632.3C1472.3,2630.1 1476.6,2627.9 1481.0,2625.7C1485.4,2623.5 1489.8,2621.6 1494.1,2619.2C1498.5,2616.8 1502.9,2614.1 1507.2,2611.3C1511.6,2608.4 1516.0,2605.6 1520.3,2602.2C1524.8,2598.6 1529.4,2594.5 1533.4,2590.4C1537.2,2586.6 1541.0,2582.8 1543.8,2578.6C1546.5,2574.5 1547.9,2570.5 1550.0,2565.5C1552.7,2559.2 1554.5,2551.6 1558.1,2543.6C1562.8,2533.1 1569.5,2522.0 1576.5,2508.3C1586.2,2489.5 1597.3,2467.6 1610.6,2441.0C1629.9,2402.6 1661.0,2339.7 1680.7,2300.0C1695.1,2271.0 1705.6,2249.9 1718.1,2224.8" fill="none" stroke="#00FF00" stroke-width="6" stroke-linejoin="round" stroke-linecap="butt"/>
<path d="M1418.5,2566.8L1425.0,2567.8C1424.3,2569.9 1424.0,2571.8 1423.0,2574.0C1421.8,2576.7 1420.3,2580.0 1418.1,2582.5C1415.7,2585.1 1412.4,2587.2 1408.9,2589.1C1405.0,2591.2 1400.2,2592.6 1395.8,2594.3C1391.4,2596.0 1386.6,2598.1 1382.7,2599.2C1379.7,2600.1 1377.2,2600.3 1374.5,2600.8C1400.1,2547.5 1425.9,2492.5 1451.3,2441.0C1475.3,2392.4 1506.9,2331.3 1522.6,2300.0C1530.4,2284.4 1534.2,2276.7 1540.0,2265.0" fill="none" stroke="#0000FF" stroke-width="6" stroke-linejoin="round" stroke-linecap="butt"/>
<path d="M1509.0,2595.7C1502.4,2596.7 1492.4,2596.4 1489.3,2598.6C1487.8,2599.7 1488.0,2601.3 1487.3,2602.6C1490.6,2597.3 1493.5,2593.3 1497.2,2586.8C1502.8,2577.1 1510.3,2561.9 1516.8,2549.5C1523.4,2537.1 1530.0,2524.8 1536.5,2512.2C1543.1,2499.3 1547.1,2491.2 1556.1,2472.9C1576.9,2430.9 1624.2,2334.3 1658.2,2265.0" fill="none" stroke="#80FFFF" stroke-width="6" stroke-linejoin="round" stroke-linecap="butt"/>
<path d="M1540.4,2626.1C1543.7,2622.8 1546.2,2618.6 1550.2,2616.3C1554.5,2613.8 1560.4,2613.7 1565.9,2612.4C1572.1,2611.0 1579.5,2610.1 1585.6,2608.4C1591.2,2606.8 1596.7,2605.5 1601.3,2602.6C1605.9,2599.7 1609.9,2595.3 1613.1,2590.8C1616.4,2586.2 1618.3,2580.3 1620.9,2575.0C1623.5,2569.8 1625.9,2565.0 1628.8,2559.3C1632.4,2552.3 1635.6,2546.4 1641.0,2536.0C1651.9,2515.0 1672.7,2475.9 1690.2,2441.0C1711.4,2398.7 1742.8,2331.2 1758.6,2300.0C1766.5,2284.3 1770.9,2276.7 1777.0,2265.0" fill="none" stroke="#FF80FF" stroke-width="6" stroke-linejoin="round" stroke-linecap="butt"/>
<g stroke="#000" stroke-width="5" stroke-linecap="square"><rect x="1300.5" y="2036.4" width="993.3" height="640.4" fill="none"/><line x1="1399.8" y1="2676.8" x2="1399.8" y2="2686.8"/><line x1="1399.8" y1="2036.4" x2="1399.8" y2="2046.4"/><line x1="1300.5" y1="2643.1" x2="1290.5" y2="2643.1"/><line x1="2293.8" y1="2643.1" x2="2283.8" y2="2643.1"/><line x1="1697.8" y1="2676.8" x2="1697.8" y2="2686.8"/><line x1="1697.8" y1="2036.4" x2="1697.8" y2="2046.4"/><line x1="1300.5" y1="2440.9" x2="1290.5" y2="2440.9"/><line x1="2293.8" y1="2440.9" x2="2283.8" y2="2440.9"/><line x1="1995.8" y1="2676.8" x2="1995.8" y2="2686.8"/><line x1="1995.8" y1="2036.4" x2="1995.8" y2="2046.4"/><line x1="1300.5" y1="2238.6" x2="1290.5" y2="2238.6"/><line x1="2293.8" y1="2238.6" x2="2283.8" y2="2238.6"/><line x1="2293.8" y1="2676.8" x2="2293.8" y2="2686.8"/><line x1="1300.5" y1="2036.4" x2="1290.5" y2="2036.4"/><line x1="1548.8" y1="2676.8" x2="1548.8" y2="2680.8"/><line x1="1548.8" y1="2036.4" x2="1548.8" y2="2040.4"/><line x1="1300.5" y1="2542.0" x2="1296.5" y2="2542.0"/><line x1="2293.8" y1="2542.0" x2="2289.8" y2="2542.0"/><line x1="1846.8" y1="2676.8" x2="1846.8" y2="2680.8"/><line x1="1846.8" y1="2036.4" x2="1846.8" y2="2040.4"/><line x1="1300.5" y1="2339.7" x2="1296.5" y2="2339.7"/><line x1="2293.8" y1="2339.7" x2="2289.8" y2="2339.7"/><line x1="2144.8" y1="2676.8" x2="2144.8" y2="2680.8"/><line x1="2144.8" y1="2036.4" x2="2144.8" y2="2040.4"/><line x1="1300.5" y1="2137.5" x2="1296.5" y2="2137.5"/><line x1="2293.8" y1="2137.5" x2="2289.8" y2="2137.5"/></g>
<g font-family="'Liberation Serif','Times New Roman',serif" stroke="#fff" stroke-width="0.8" font-size="55" fill="#000"><text x="1399.8" y="2736.8" text-anchor="middle">0</text><text x="1281.5" y="2658.2" text-anchor="end">0</text><text x="1697.8" y="2736.8" text-anchor="middle">150</text><text x="1281.5" y="2456.0" text-anchor="end">150</text><text x="1995.8" y="2736.8" text-anchor="middle">300</text><text x="1281.5" y="2253.8" text-anchor="end">300</text><text x="2293.8" y="2736.8" text-anchor="middle">450</text><text x="1281.5" y="2051.6" text-anchor="end">450</text></g>
<g stroke="#e0e0e0" stroke-width="2.6" stroke-dasharray="5.6 3.4"><line x1="282.5" y1="2786.2" x2="282.5" y2="3427.0"/><line x1="183.1" y1="3393.3" x2="1176.7" y2="3393.3"/><line x1="580.5" y1="2786.2" x2="580.5" y2="3427.0"/><line x1="183.1" y1="3190.9" x2="1176.7" y2="3190.9"/><line x1="878.6" y1="2786.2" x2="878.6" y2="3427.0"/><line x1="183.1" y1="2988.6" x2="1176.7" y2="2988.6"/></g>
<path d="M361.5,3344.0C361.5,3335.3 361.2,3326.9 361.5,3318.0C361.8,3308.4 362.1,3297.3 363.4,3288.4C364.5,3280.9 365.7,3274.5 368.0,3268.0C370.3,3261.4 374.1,3255.4 377.2,3249.1C380.4,3242.6 383.4,3237.2 387.0,3229.5C392.0,3218.7 395.9,3207.1 403.6,3190.0C418.3,3157.5 449.4,3095.5 471.8,3050.0C493.2,3006.6 514.1,2965.4 535.2,2923.1" fill="none" stroke="#E6AB2A" stroke-width="6" stroke-linejoin="round" stroke-linecap="butt"/>
<path d="M281.9,3332.9C285.5,3330.9 289.8,3329.2 292.7,3327.0C295.1,3325.2 296.8,3323.6 298.6,3321.1C300.8,3318.0 302.1,3314.1 304.5,3309.3C308.1,3302.0 313.2,3291.8 318.2,3281.8C324.2,3269.9 331.0,3256.6 337.9,3242.5C345.8,3226.3 352.3,3211.6 362.8,3190.0C380.0,3154.5 411.9,3091.0 432.3,3050.0C448.3,3017.8 461.0,2992.7 475.3,2964.0" fill="none" stroke="#F54545" stroke-width="6" stroke-linejoin="round" stroke-linecap="butt"/>
<path d="M332.0,3380.7C337.2,3375.5 342.3,3370.4 347.7,3365.0C353.4,3359.3 360.0,3352.2 365.4,3347.3C369.6,3343.4 372.6,3340.7 377.2,3337.5C382.8,3333.5 390.3,3329.6 396.8,3325.7C403.4,3321.8 410.2,3318.8 416.5,3313.9C423.4,3308.5 431.2,3300.2 436.1,3294.3C439.6,3290.1 442.1,3287.4 444.0,3282.5C446.5,3276.2 445.6,3266.9 447.9,3258.9C450.5,3249.9 454.9,3241.4 459.7,3231.4C465.8,3218.9 472.9,3208.0 482.2,3190.0C499.2,3157.2 531.2,3091.0 551.5,3050.0C567.4,3017.9 579.9,2992.7 594.1,2964.0" fill="none" stroke="#00FF00" stroke-width="6" stroke-linejoin="round" stroke-linecap="butt"/>
<path d="M304.5,3339.8C301.2,3342.1 298.5,3344.7 294.7,3346.7C290.2,3349.1 284.2,3351.5 278.9,3352.6C273.7,3353.7 268.0,3354.3 263.2,3353.5C258.9,3352.8 254.4,3351.2 251.4,3348.6C248.6,3346.2 246.4,3342.5 245.5,3338.8C244.5,3334.7 245.2,3329.3 246.5,3325.0C247.8,3320.8 250.5,3317.4 253.4,3313.3C257.0,3308.3 263.0,3303.3 267.2,3297.5C271.6,3291.5 275.3,3284.5 278.9,3277.9C282.5,3271.4 285.0,3266.0 288.8,3258.3C294.2,3247.5 302.3,3231.1 308.4,3219.0C313.6,3208.6 316.3,3203.3 323.0,3190.0C337.6,3160.8 376.1,3084.0 392.9,3050.0C402.5,3030.6 407.9,3019.5 415.4,3004.2" fill="none" stroke="#0000FF" stroke-width="6" stroke-linejoin="round" stroke-linecap="butt"/>
<path d="M410.6,3366.0C404.0,3365.4 396.8,3365.6 390.9,3364.3C385.8,3363.2 381.2,3361.7 377.2,3359.5C373.6,3357.5 369.6,3355.1 367.8,3352.0C366.1,3349.1 365.7,3345.4 366.4,3341.5C367.5,3335.8 373.1,3329.3 377.2,3321.8C382.8,3311.7 390.3,3298.4 396.8,3286.4C403.4,3274.2 409.6,3263.1 416.5,3249.1C425.0,3231.8 432.2,3213.8 443.5,3190.0C460.9,3153.1 495.2,3083.9 512.1,3050.0C521.8,3030.5 527.5,3019.5 535.2,3004.2" fill="none" stroke="#80FFFF" stroke-width="6" stroke-linejoin="round" stroke-linecap="butt"/>
<path d="M394.9,3375.1C399.5,3372.8 403.1,3370.2 408.6,3368.3C416.1,3365.7 426.8,3364.5 436.1,3362.4C445.8,3360.2 457.0,3358.8 465.6,3355.5C473.0,3352.7 480.1,3348.9 485.2,3344.7C489.5,3341.2 492.8,3337.1 495.1,3332.9C497.2,3329.2 497.5,3325.3 499.0,3321.1C500.7,3316.2 502.4,3311.6 504.9,3305.4C508.7,3296.3 513.4,3285.5 520.0,3272.0C530.4,3250.6 547.2,3221.1 562.9,3190.0C583.3,3149.7 614.9,3084.0 631.3,3050.0C640.7,3030.6 645.8,3019.5 653.1,3004.2" fill="none" stroke="#FF80FF" stroke-width="6" stroke-linejoin="round" stroke-linecap="butt"/>
<g stroke="#000" stroke-width="5" stroke-linecap="square"><rect x="183.1" y="2786.2" width="993.6" height="640.8" fill="none"/><line x1="282.5" y1="3427.0" x2="282.5" y2="3437.0"/><line x1="282.5" y1="2786.2" x2="282.5" y2="2796.2"/><line x1="183.1" y1="3393.3" x2="173.1" y2="3393.3"/><line x1="1176.7" y1="3393.3" x2="1166.7" y2="3393.3"/><line x1="580.5" y1="3427.0" x2="580.5" y2="3437.0"/><line x1="580.5" y1="2786.2" x2="580.5" y2="2796.2"/><line x1="183.1" y1="3190.9" x2="173.1" y2="3190.9"/><line x1="1176.7" y1="3190.9" x2="1166.7" y2="3190.9"/><line x1="878.6" y1="3427.0" x2="878.6" y2="3437.0"/><line x1="878.6" y1="2786.2" x2="878.6" y2="2796.2"/><line x1="183.1" y1="2988.6" x2="173.1" y2="2988.6"/><line x1="1176.7" y1="2988.6" x2="1166.7" y2="2988.6"/><line x1="1176.7" y1="3427.0" x2="1176.7" y2="3437.0"/><line x1="183.1" y1="2786.2" x2="173.1" y2="2786.2"/><line x1="431.5" y1="3427.0" x2="431.5" y2="3431.0"/><line x1="431.5" y1="2786.2" x2="431.5" y2="2790.2"/><line x1="183.1" y1="3292.1" x2="179.1" y2="3292.1"/><line x1="1176.7" y1="3292.1" x2="1172.7" y2="3292.1"/><line x1="729.6" y1="3427.0" x2="729.6" y2="3431.0"/><line x1="729.6" y1="2786.2" x2="729.6" y2="2790.2"/><line x1="183.1" y1="3089.7" x2="179.1" y2="3089.7"/><line x1="1176.7" y1="3089.7" x2="1172.7" y2="3089.7"/><line x1="1027.7" y1="3427.0" x2="1027.7" y2="3431.0"/><line x1="1027.7" y1="2786.2" x2="1027.7" y2="2790.2"/><line x1="183.1" y1="2887.4" x2="179.1" y2="2887.4"/><line x1="1176.7" y1="2887.4" x2="1172.7" y2="2887.4"/></g>
<g font-family="'Liberation Serif','Times New Roman',serif" stroke="#fff" stroke-width="0.8" font-size="55" fill="#000"><text x="282.5" y="3487.0" text-anchor="middle">0</text><text x="164.1" y="3408.4" text-anchor="end">0</text><text x="580.5" y="3487.0" text-anchor="middle">150</text><text x="164.1" y="3206.1" text-anchor="end">150</text><text x="878.6" y="3487.0" text-anchor="middle">300</text><text x="164.1" y="3003.7" text-anchor="end">300</text><text x="1176.7" y="3487.0" text-anchor="middle">450</text><text x="164.1" y="2801.3" text-anchor="end">450</text></g>
<g stroke="#e0e0e0" stroke-width="2.6" stroke-dasharray="5.6 3.4"><line x1="1399.8" y1="2786.2" x2="1399.8" y2="3427.0"/><line x1="1300.5" y1="3393.3" x2="2293.8" y2="3393.3"/><line x1="1697.8" y1="2786.2" x2="1697.8" y2="3427.0"/><line x1="1300.5" y1="3190.9" x2="2293.8" y2="3190.9"/><line x1="1995.8" y1="2786.2" x2="1995.8" y2="3427.0"/><line x1="1300.5" y1="2988.6" x2="2293.8" y2="2988.6"/></g>
<path d="M1479.5,3353.5C1479.8,3347.3 1479.8,3341.4 1480.5,3334.9C1481.3,3327.5 1483.0,3319.3 1484.4,3311.3C1485.9,3303.0 1487.3,3293.5 1489.3,3285.8C1491.0,3279.3 1492.9,3273.7 1495.2,3268.1C1497.5,3262.6 1500.2,3258.3 1503.1,3252.4C1506.7,3245.0 1510.7,3236.3 1515.0,3227.0C1520.2,3215.8 1524.3,3206.2 1532.0,3190.0C1547.1,3158.2 1578.9,3094.7 1600.9,3050.0C1621.1,3008.9 1639.7,2971.0 1659.1,2931.5" fill="none" stroke="#E6AB2A" stroke-width="6" stroke-linejoin="round" stroke-linecap="butt"/>
<path d="M1398.9,3332.9C1402.8,3331.3 1407.0,3329.7 1410.7,3328.0C1414.2,3326.4 1417.5,3325.5 1420.6,3323.1C1424.2,3320.3 1427.1,3316.2 1430.4,3311.3C1434.9,3304.6 1439.6,3294.5 1444.1,3285.8C1448.8,3276.8 1452.9,3268.3 1457.9,3258.3C1463.9,3246.4 1468.2,3237.7 1477.5,3219.0C1500.9,3172.0 1559.3,3054.2 1600.2,2971.8" fill="none" stroke="#F54545" stroke-width="6" stroke-linejoin="round" stroke-linecap="butt"/>
<path d="M1449.0,3381.0C1455.2,3378.7 1461.1,3377.2 1467.7,3374.2C1475.7,3370.6 1484.8,3364.8 1493.2,3360.4C1501.2,3356.2 1509.4,3353.0 1516.8,3348.6C1523.8,3344.4 1530.2,3340.2 1536.5,3334.9C1543.3,3329.2 1550.7,3321.9 1556.1,3315.2C1560.9,3309.4 1565.3,3303.6 1567.9,3297.5C1570.3,3291.8 1569.9,3286.4 1571.8,3279.9C1574.2,3271.7 1577.9,3261.6 1581.7,3252.4C1585.7,3242.7 1588.4,3237.5 1595.4,3222.9C1615.9,3180.1 1677.9,3055.5 1719.1,2971.8" fill="none" stroke="#00FF00" stroke-width="6" stroke-linejoin="round" stroke-linecap="butt"/>
<path d="M1422.5,3338.8C1423.2,3340.8 1424.8,3342.6 1424.5,3344.7C1424.1,3347.4 1421.4,3351.2 1418.6,3353.5C1415.2,3356.3 1409.7,3358.3 1404.8,3359.4C1399.8,3360.5 1393.9,3361.0 1389.1,3360.0C1384.8,3359.1 1380.1,3357.4 1377.3,3354.5C1374.5,3351.6 1372.9,3346.9 1372.4,3342.7C1371.9,3338.4 1372.8,3333.0 1374.4,3329.0C1375.9,3325.3 1378.6,3322.7 1381.3,3319.2C1384.6,3314.9 1389.3,3310.6 1393.0,3305.4C1397.2,3299.6 1400.9,3293.0 1404.8,3285.8C1409.4,3277.5 1413.6,3268.3 1418.6,3258.3C1424.6,3246.4 1429.1,3237.2 1438.2,3219.0C1459.0,3177.3 1506.3,3081.7 1540.3,3013.1" fill="none" stroke="#0000FF" stroke-width="6" stroke-linejoin="round" stroke-linecap="butt"/>
<path d="M1526.6,3364.3C1520.1,3364.0 1512.7,3364.2 1507.0,3363.4C1502.5,3362.7 1497.8,3362.5 1495.2,3360.4C1493.0,3358.6 1491.8,3355.4 1491.3,3352.6C1490.7,3349.6 1491.1,3346.3 1492.3,3342.7C1494.1,3337.5 1499.0,3332.1 1503.1,3325.0C1509.1,3314.6 1517.3,3298.7 1524.0,3285.8C1530.5,3273.2 1536.7,3261.0 1543.0,3248.4C1549.5,3235.5 1557.0,3219.9 1562.3,3209.1C1566.0,3201.6 1567.2,3199.3 1571.8,3190.0C1584.3,3164.8 1625.8,3081.7 1641.3,3050.0C1649.2,3033.8 1653.2,3025.4 1659.1,3013.1" fill="none" stroke="#80FFFF" stroke-width="6" stroke-linejoin="round" stroke-linecap="butt"/>
<path d="M1512.9,3375.1C1518.1,3372.8 1522.5,3370.0 1528.6,3368.3C1536.4,3366.1 1546.8,3365.8 1556.1,3364.3C1565.8,3362.8 1576.3,3362.0 1585.6,3359.4C1594.6,3356.9 1604.6,3353.2 1611.1,3349.0C1616.0,3345.8 1619.6,3342.4 1622.5,3338.0C1625.5,3333.4 1626.5,3327.1 1628.5,3322.0C1630.4,3317.2 1631.0,3314.9 1634.0,3308.0C1642.9,3287.8 1671.5,3231.0 1691.3,3190.0C1712.9,3145.3 1742.7,3081.6 1758.6,3050.0C1766.8,3033.6 1771.5,3025.4 1778.0,3013.1" fill="none" stroke="#FF80FF" stroke-width="6" stroke-linejoin="round" stroke-linecap="butt"/>
<g stroke="#000" stroke-width="5" stroke-linecap="square"><rect x="1300.5" y="2786.2" width="993.3" height="640.8" fill="none"/><line x1="1399.8" y1="3427.0" x2="1399.8" y2="3437.0"/><line x1="1399.8" y1="2786.2" x2="1399.8" y2="2796.2"/><line x1="1300.5" y1="3393.3" x2="1290.5" y2="3393.3"/><line x1="2293.8" y1="3393.3" x2="2283.8" y2="3393.3"/><line x1="1697.8" y1="3427.0" x2="1697.8" y2="3437.0"/><line x1="1697.8" y1="2786.2" x2="1697.8" y2="2796.2"/><line x1="1300.5" y1="3190.9" x2="1290.5" y2="3190.9"/><line x1="2293.8" y1="3190.9" x2="2283.8" y2="3190.9"/><line x1="1995.8" y1="3427.0" x2="1995.8" y2="3437.0"/><line x1="1995.8" y1="2786.2" x2="1995.8" y2="2796.2"/><line x1="1300.5" y1="2988.6" x2="1290.5" y2="2988.6"/><line x1="2293.8" y1="2988.6" x2="2283.8" y2="2988.6"/><line x1="2293.8" y1="3427.0" x2="2293.8" y2="3437.0"/><line x1="1300.5" y1="2786.2" x2="1290.5" y2="2786.2"/><line x1="1548.8" y1="3427.0" x2="1548.8" y2="3431.0"/><line x1="1548.8" y1="2786.2" x2="1548.8" y2="2790.2"/><line x1="1300.5" y1="3292.1" x2="1296.5" y2="3292.1"/><line x1="2293.8" y1="3292.1" x2="2289.8" y2="3292.1"/><line x1="1846.8" y1="3427.0" x2="1846.8" y2="3431.0"/><line x1="1846.8" y1="2786.2" x2="1846.8" y2="2790.2"/><line x1="1300.5" y1="3089.7" x2="1296.5" y2="3089.7"/><line x1="2293.8" y1="3089.7" x2="2289.8" y2="3089.7"/><line x1="2144.8" y1="3427.0" x2="2144.8" y2="3431.0"/><line x1="2144.8" y1="2786.2" x2="2144.8" y2="2790.2"/><line x1="1300.5" y1="2887.4" x2="1296.5" y2="2887.4"/><line x1="2293.8" y1="2887.4" x2="2289.8" y2="2887.4"/></g>
<g font-family="'Liberation Serif','Times New Roman',serif" stroke="#fff" stroke-width="0.8" font-size="55" fill="#000"><text x="1399.8" y="3487.0" text-anchor="middle">0</text><text x="1281.5" y="3408.4" text-anchor="end">0</text><text x="1697.8" y="3487.0" text-anchor="middle">150</text><text x="1281.5" y="3206.1" text-anchor="end">150</text><text x="1995.8" y="3487.0" text-anchor="middle">300</text><text x="1281.5" y="3003.7" text-anchor="end">300</text><text x="2293.8" y="3487.0" text-anchor="middle">450</text><text x="1281.5" y="2801.3" text-anchor="end">450</text></g>
<rect x="381.6" y="1925.6" width="1663.8000000000002" height="73.40000000000009" fill="#fff" stroke="#000" stroke-width="5"/>
<line x1="387.3" y1="1962.7" x2="512.3" y2="1962.7" stroke="#E6AB2A" stroke-width="5.8"/>
<text x="524.0" y="1980.8" font-family="'Liberation Serif','Times New Roman',serif" stroke="#fff" stroke-width="0.8" font-size="54.5">UVA1</text>
<line x1="662.2" y1="1962.7" x2="787.2" y2="1962.7" stroke="#F54545" stroke-width="5.8"/>
<text x="798.9" y="1980.8" font-family="'Liberation Serif','Times New Roman',serif" stroke="#fff" stroke-width="0.8" font-size="54.5">UVA2</text>
<line x1="937.0999999999999" y1="1962.7" x2="1062.1" y2="1962.7" stroke="#00FF00" stroke-width="5.8"/>
<text x="1073.8" y="1980.8" font-family="'Liberation Serif','Times New Roman',serif" stroke="#fff" stroke-width="0.8" font-size="54.5">UVA3</text>
<line x1="1212.0" y1="1962.7" x2="1337.0" y2="1962.7" stroke="#0000FF" stroke-width="5.8"/>
<text x="1348.6999999999998" y="1980.8" font-family="'Liberation Serif','Times New Roman',serif" stroke="#fff" stroke-width="0.8" font-size="54.5">UVA4</text>
<line x1="1486.8999999999999" y1="1962.7" x2="1611.8999999999999" y2="1962.7" stroke="#80FFFF" stroke-width="5.8"/>
<text x="1623.6" y="1980.8" font-family="'Liberation Serif','Times New Roman',serif" stroke="#fff" stroke-width="0.8" font-size="54.5">UVA5</text>
<line x1="1761.8" y1="1962.7" x2="1886.8" y2="1962.7" stroke="#FF80FF" stroke-width="5.8"/>
<text x="1898.5" y="1980.8" font-family="'Liberation Serif','Times New Roman',serif" stroke="#fff" stroke-width="0.8" font-size="54.5">UVA6</text>
<text x="694.9" y="1747.3" text-anchor="middle" font-family="'Liberation Serif','Times New Roman',serif" stroke="#fff" stroke-width="0.8" font-size="62"><tspan font-style="italic">x</tspan>/(m)</text>
<text x="1802.3" y="1756.6" text-anchor="middle" font-family="'Liberation Serif','Times New Roman',serif" stroke="#fff" stroke-width="0.8" font-size="62"><tspan font-style="italic">x</tspan>/(m)</text>
<text x="677.9" y="3545.9" text-anchor="middle" font-family="'Liberation Serif','Times New Roman',serif" stroke="#fff" stroke-width="0.8" font-size="54.5"><tspan font-style="italic">x</tspan>/(m)</text>
<text x="1794.6" y="3545.9" text-anchor="middle" font-family="'Liberation Serif','Times New Roman',serif" stroke="#fff" stroke-width="0.8" font-size="54.5"><tspan font-style="italic">x</tspan>/(m)</text>
<text transform="translate(77.0,464.5) rotate(-90)" x="0" y="0" text-anchor="middle" font-family="'Liberation Serif','Times New Roman',serif" stroke="#fff" stroke-width="0.8" font-size="62"><tspan font-style="italic">y</tspan>/(m)</text>
<text transform="translate(72.6,1244.5) rotate(-90)" x="0" y="0" text-anchor="middle" font-family="'Liberation Serif','Times New Roman',serif" stroke="#fff" stroke-width="0.8" font-size="62"><tspan font-style="italic">y</tspan>/(m)</text>
<text transform="translate(69.3,2356.1) rotate(-90)" x="0" y="0" text-anchor="middle" font-family="'Liberation Serif','Times New Roman',serif" stroke="#fff" stroke-width="0.8" font-size="54.5"><tspan font-style="italic">y</tspan>/(m)</text>
<text transform="translate(69.3,3106.2) rotate(-90)" x="0" y="0" text-anchor="middle" font-family="'Liberation Serif','Times New Roman',serif" stroke="#fff" stroke-width="0.8" font-size="54.5"><tspan font-style="italic">y</tspan>/(m)</text>
<text x="377.0" y="354.3" font-family="'Liberation Serif','Times New Roman',serif" stroke="#fff" stroke-width="0.5" font-size="74">Group 1</text>
<text x="1486.0" y="350.5" font-family="'Liberation Serif','Times New Roman',serif" stroke="#fff" stroke-width="0.5" font-size="74">Group 2</text>
<text x="374.1" y="1113.7" font-family="'Liberation Serif','Times New Roman',serif" stroke="#fff" stroke-width="0.5" font-size="74">Group 3</text>
<text x="1485.0" y="1123.1" font-family="'Liberation Serif','Times New Roman',serif" stroke="#fff" stroke-width="0.5" font-size="74">Group 4</text>
<text x="795.0" y="2199.8" font-family="'Liberation Serif','Times New Roman',serif" stroke="#fff" stroke-width="0.5" font-size="64.5">Group 1</text>
<text x="1911.6" y="2194.1" font-family="'Liberation Serif','Times New Roman',serif" stroke="#fff" stroke-width="0.5" font-size="64.5">Group 2</text>
<text x="793.3" y="2952.4" font-family="'Liberation Serif','Times New Roman',serif" stroke="#fff" stroke-width="0.5" font-size="64.5">Group 3</text>
<text x="1911.6" y="2949.0" font-family="'Liberation Serif','Times New Roman',serif" stroke="#fff" stroke-width="0.5" font-size="64.5">Group 4</text>
<text x="1177" y="1883.8" text-anchor="middle" font-family="'Liberation Serif','Times New Roman',serif" stroke="#fff" stroke-width="0.8" font-size="87">(<tspan font-weight="bold">a</tspan>)</text>
<text x="1177" y="3673.8" text-anchor="middle" font-family="'Liberation Serif','Times New Roman',serif" stroke="#fff" stroke-width="0.8" font-size="87">(<tspan font-weight="bold">b</tspan>)</text>
</svg></body></html>
